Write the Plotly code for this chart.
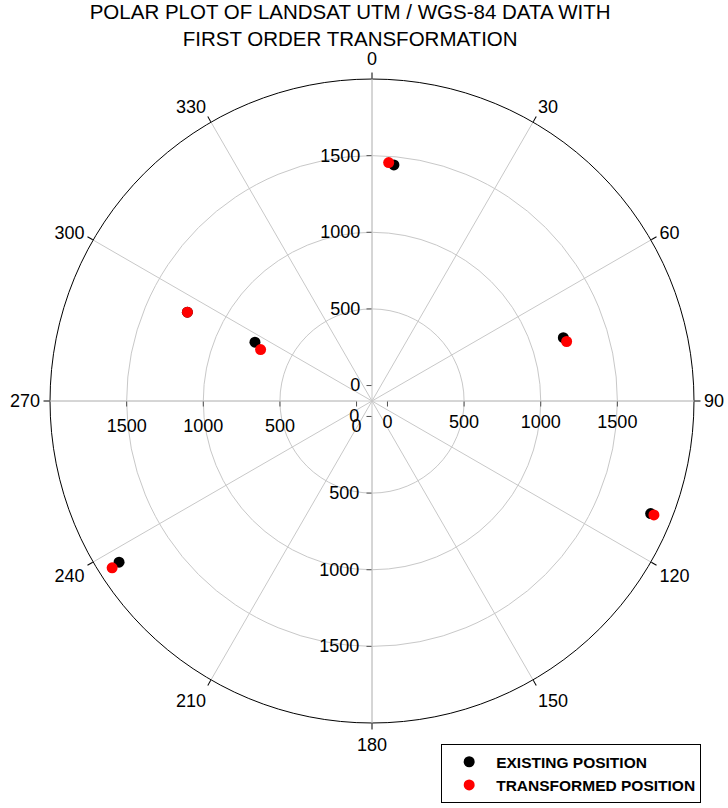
import plotly.graph_objects as go

# bearing (deg, clockwise from north) and distance of each control point
existing_theta = [5.3, 71.7, 112.0, 237.5, 295.7, 296.7]
existing_r = [1446, 1214, 1860, 1856, 1236, 754]

transformed_theta = [4.0, 73.0, 112.0, 237.3, 295.7, 294.8]
transformed_r = [1459, 1227, 1883, 1914, 1236, 700]

radial_ticks = [0, 500, 1000, 1500]
grid_rings = [500, 1000, 1500]
angle_ticks = list(range(0, 360, 30))

title_text = 'POLAR PLOT OF LANDSAT UTM / WGS-84 DATA WITH<br>FIRST ORDER TRANSFORMATION'
font_name = 'Liberation Sans, Arial, sans-serif'
grid_col = 'rgb(200, 200, 200)'
HOLE = 0.048

dom = dict(x=[0.0687, 0.9533], y=[0.1052, 0.9022])
hidden_ang = dict(visible=False, rotation=90, direction='clockwise')

fig = go.Figure()

# empty traces so every overlay polar gets drawn
for sp in ['polar', 'polar2', 'polar3', 'polar4', 'polar5', 'polar6', 'polar7']:
    fig.add_trace(go.Scatterpolar(r=[], theta=[], subplot=sp, showlegend=False,
                                  hoverinfo='skip'))

fig.add_trace(go.Scatterpolar(r=existing_r, theta=existing_theta, mode='markers',
                              name='EXISTING POSITION', subplot='polar8',
                              marker=dict(color='black', size=11)))
fig.add_trace(go.Scatterpolar(r=transformed_r, theta=transformed_theta, mode='markers',
                              name='TRANSFORMED POSITION', subplot='polar8',
                              marker=dict(color='red', size=11)))


def label_axis(angle, side, tickangle):
    ax = dict(
        range=[0, 2000],
        angle=angle,
        side=side,
        tickvals=radial_ticks,
        ticks='outside',
        ticklen=5,
        tickcolor='rgb(80, 80, 80)',
        showline=True,
        linecolor=grid_col,
        showgrid=False,
        tickfont=dict(family=font_name, size=18, color='black'),
    )
    if tickangle is not None:
        ax['tickangle'] = tickangle
    return ax


def overlay(radialaxis, sector=None):
    p = dict(domain=dom, hole=HOLE, bgcolor='rgba(0,0,0,0)',
             radialaxis=radialaxis, angularaxis=hidden_ang)
    if sector is not None:
        p['sector'] = sector
    return p


fig.update_layout(
    # outer circle, spokes and angle labels
    polar=dict(
        domain=dom,
        hole=0,
        bgcolor='white',
        radialaxis=dict(visible=False, range=[0, 2000]),
        angularaxis=dict(
            rotation=90,
            direction='clockwise',
            tickvals=angle_ticks,
            ticktext=[str(a) for a in angle_ticks],
            ticks='outside',
            ticklen=6,
            tickcolor='black',
            showline=True,
            linecolor='black',
            linewidth=1,
            gridcolor=grid_col,
            tickfont=dict(family=font_name, size=18, color='black'),
        ),
    ),
    # distance rings
    polar2=overlay(dict(range=[0, 2000], tickvals=grid_rings, showticklabels=False,
                        ticks='', showline=False, gridcolor=grid_col)),
    # dashed zero ring round the hole
    polar3=overlay(dict(range=[-1, 2000], tickvals=[0], showticklabels=False,
                        ticks='', showline=False, gridcolor='rgb(90, 90, 90)',
                        gridwidth=1.2, griddash='dash')),
    # distance labels up, down, right, left
    polar4=overlay(label_axis(90, 'counterclockwise', 90)),
    polar5=overlay(label_axis(270, 'clockwise', -90)),
    polar6=overlay(label_axis(0, 'clockwise', 0)),
    polar7=overlay(label_axis(180, 'counterclockwise', None), sector=[180, 540]),
    # data
    polar8=dict(domain=dom, hole=HOLE, bgcolor='rgba(0,0,0,0)',
                radialaxis=dict(visible=False, range=[0, 2000]),
                angularaxis=hidden_ang),
    title=dict(text=title_text, x=0.481, xanchor='center',
               y=1 - 19 / 808, yanchor='middle',
               font=dict(family=font_name, size=20.5, color='black')),
    legend=dict(x=0.606, xanchor='left', y=0.079, yanchor='top',
                bordercolor='black', borderwidth=1, bgcolor='white',
                itemwidth=44,
                font=dict(family=font_name, size=15.5, color='black', weight='bold')),
    width=728,
    height=808,
    margin=dict(l=0, r=0, t=0, b=0),
    paper_bgcolor='white',
    showlegend=True,
)

fig.write_html('out.html', config={'displayModeBar': False},
               post_script="document.body.style.margin='0';")
